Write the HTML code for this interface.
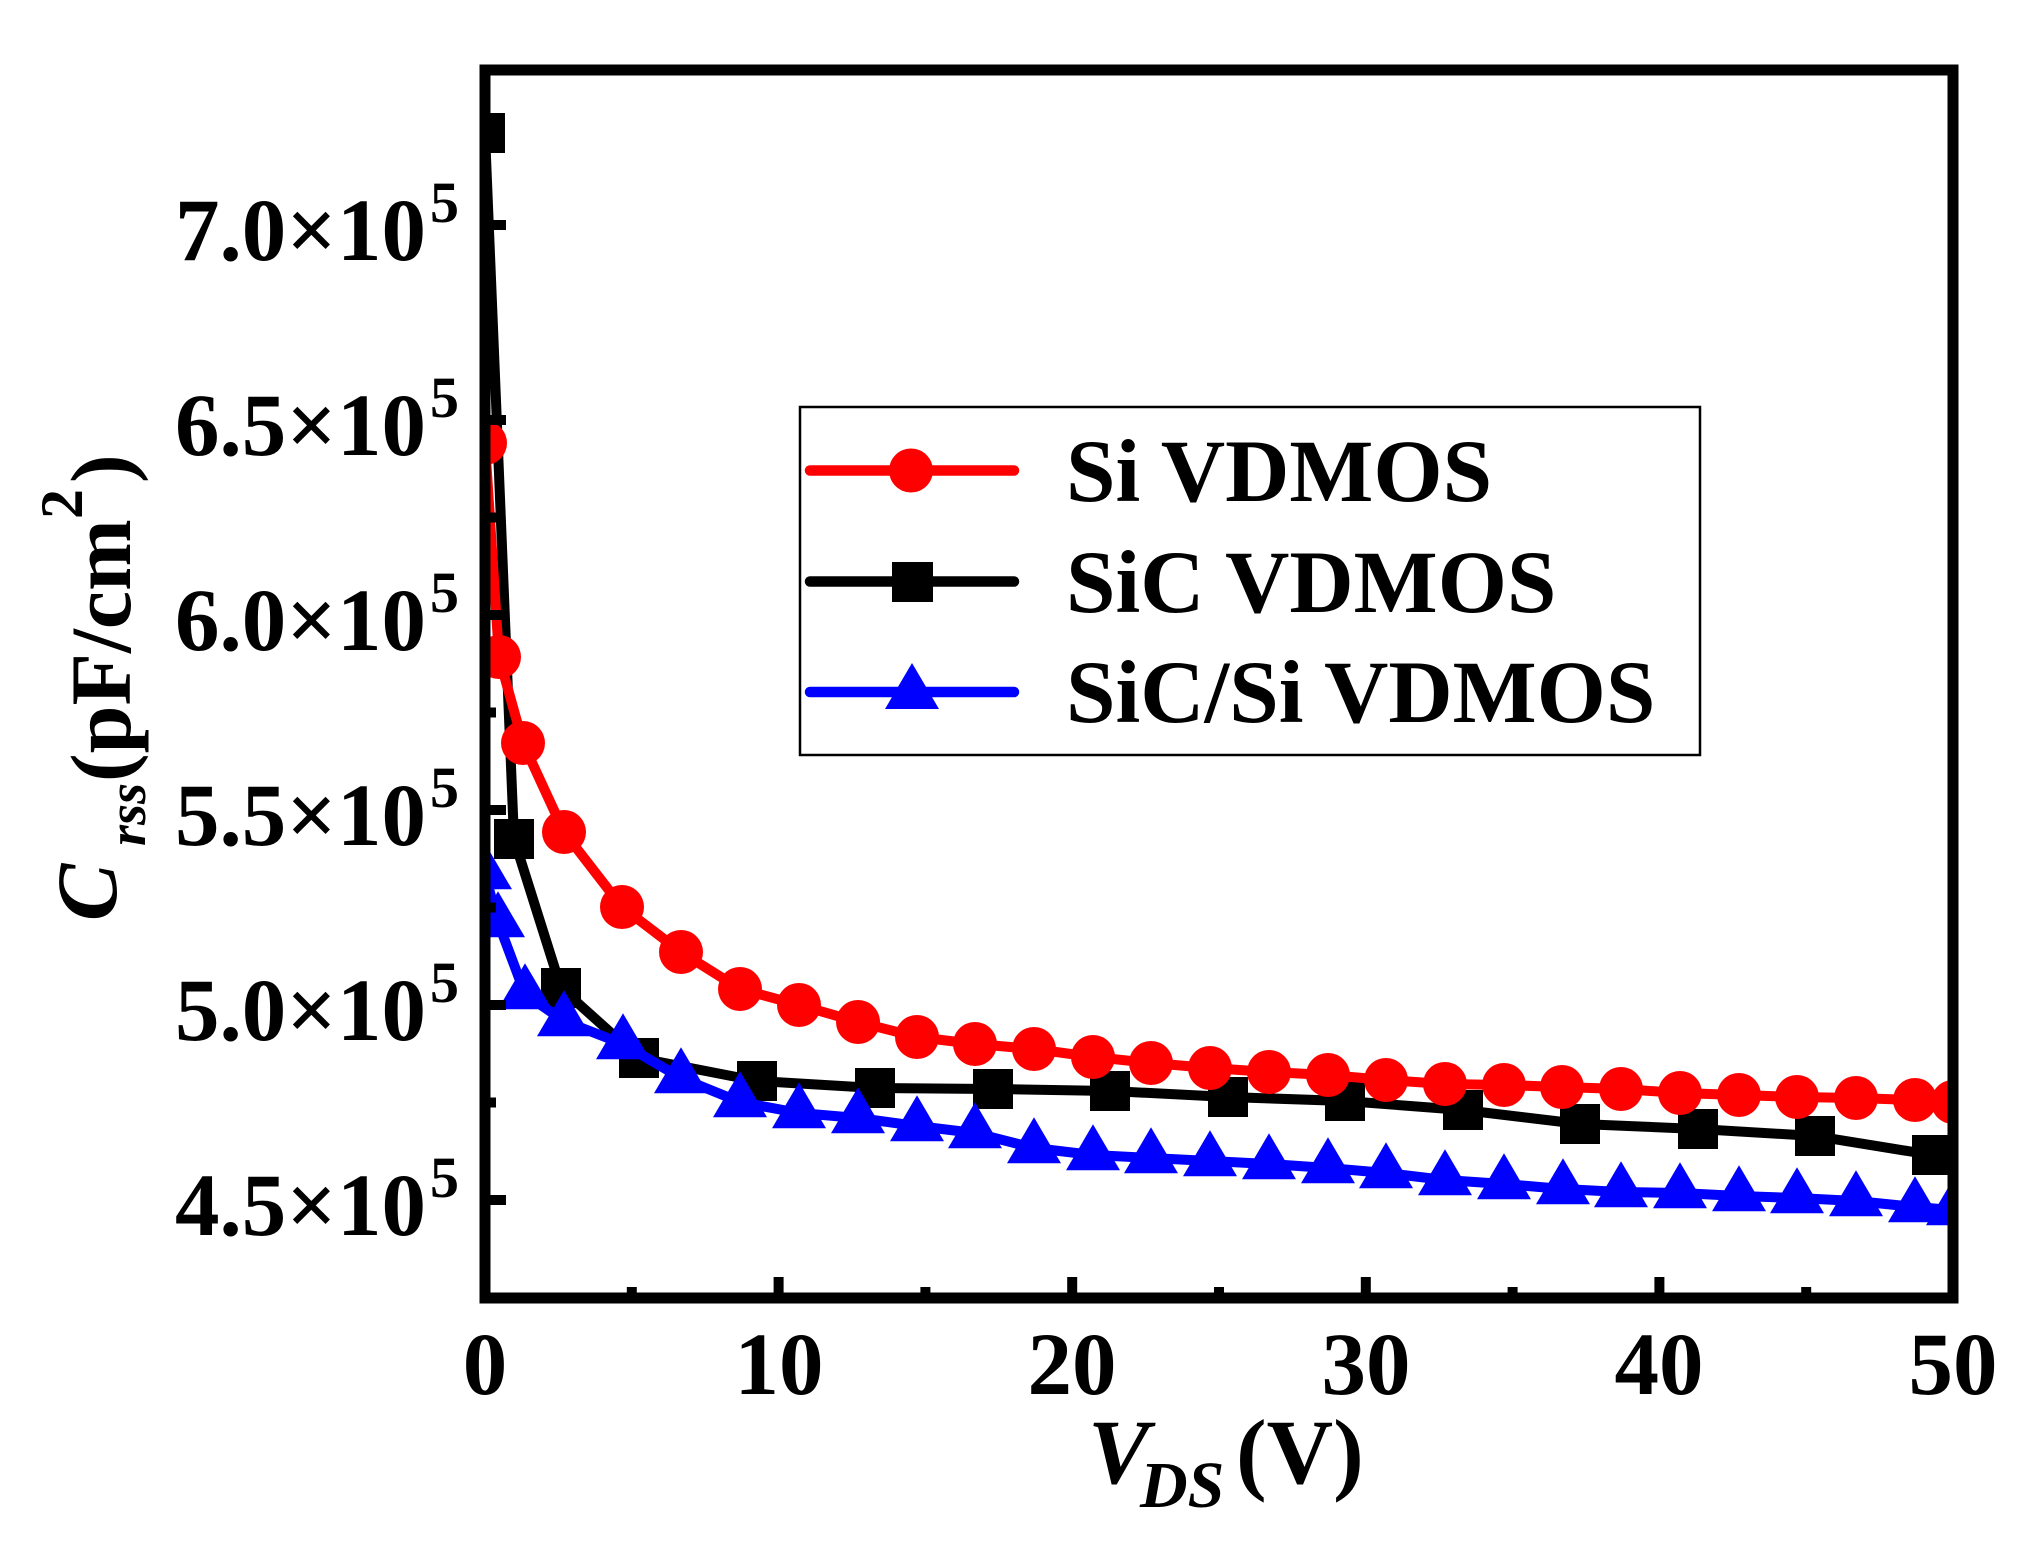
<!DOCTYPE html>
<html>
<head>
<meta charset="utf-8">
<style>
  html,body{margin:0;padding:0;background:#fff;}
  svg{display:block;}
  text{font-family:"Liberation Serif","Times New Roman",serif;font-weight:bold;fill:#000;}
</style>
</head>
<body>
<svg width="2038" height="1545" viewBox="0 0 2038 1545" xmlns="http://www.w3.org/2000/svg">
  <defs>
    <clipPath id="clip"><rect x="485" y="70" width="1468" height="1228"/></clipPath>
    <marker id="mc" markerUnits="userSpaceOnUse" markerWidth="60" markerHeight="60" refX="30" refY="30" overflow="visible">
      <circle cx="30" cy="30" r="22" fill="#ff0000"/>
    </marker>
    <marker id="ms" markerUnits="userSpaceOnUse" markerWidth="60" markerHeight="60" refX="30" refY="30" overflow="visible">
      <rect x="10" y="10" width="40" height="40" fill="#000"/>
    </marker>
    <marker id="mt" markerUnits="userSpaceOnUse" markerWidth="60" markerHeight="60" refX="30" refY="30" overflow="visible">
      <path d="M30,-0.7 L57,45.3 L3,45.3 Z" fill="#0000ff"/>
    </marker>
  </defs>

  <!-- data -->
  <g clip-path="url(#clip)" fill="none" stroke-linejoin="round">
    <polyline stroke="#000" stroke-width="10" marker-start="url(#ms)" marker-mid="url(#ms)" marker-end="url(#ms)"
      points="485,133 514,839 561,988 639,1058 757,1081 875,1088 993,1089 1110,1091 1228,1097 1345,1101 1463,1110 1580,1124 1698,1129 1815,1136 1932,1155"/>
    <polyline stroke="#0000ff" stroke-width="10" marker-start="url(#mt)" marker-mid="url(#mt)" marker-end="url(#mt)"
      points="485,874 498,922 525,994 564,1021 623,1044 681,1078 740,1102 799,1113 858,1118 917,1126 975,1133 1034,1148 1093,1155 1151,1158 1210,1161 1269,1164 1328,1168 1386,1173 1445,1180 1504,1184 1563,1189 1621,1192 1680,1193 1739,1196 1797,1198 1856,1201 1915,1207 1953,1210"/>
    <polyline stroke="#ff0000" stroke-width="10" marker-start="url(#mc)" marker-mid="url(#mc)" marker-end="url(#mc)"
      points="485,443 499,657 523,743 564,832 622,907 681,952 740,989 799,1005 858,1022 917,1037 975,1044 1034,1049 1093,1057 1151,1063 1210,1068 1269,1072 1328,1075 1386,1080 1445,1084 1504,1085 1562,1087 1621,1089 1680,1093 1739,1095 1797,1097 1856,1098 1915,1100 1953,1102"/>
  </g>

  <!-- ticks -->
  <g stroke="#000" stroke-width="10">
    <line x1="485" y1="225" x2="506" y2="225"/>
    <line x1="485" y1="420" x2="506" y2="420"/>
    <line x1="485" y1="615" x2="506" y2="615"/>
    <line x1="485" y1="810" x2="506" y2="810"/>
    <line x1="485" y1="1005" x2="506" y2="1005"/>
    <line x1="485" y1="1200" x2="506" y2="1200"/>
    <line x1="485" y1="127.5" x2="496" y2="127.5"/>
    <line x1="485" y1="322.5" x2="496" y2="322.5"/>
    <line x1="485" y1="517.5" x2="496" y2="517.5"/>
    <line x1="485" y1="712.5" x2="496" y2="712.5"/>
    <line x1="485" y1="907.5" x2="496" y2="907.5"/>
    <line x1="485" y1="1102.5" x2="496" y2="1102.5"/>

    <line x1="778.6" y1="1298" x2="778.6" y2="1277"/>
    <line x1="1072.2" y1="1298" x2="1072.2" y2="1277"/>
    <line x1="1365.8" y1="1298" x2="1365.8" y2="1277"/>
    <line x1="1659.4" y1="1298" x2="1659.4" y2="1277"/>
    <line x1="631.8" y1="1298" x2="631.8" y2="1287"/>
    <line x1="925.4" y1="1298" x2="925.4" y2="1287"/>
    <line x1="1219" y1="1298" x2="1219" y2="1287"/>
    <line x1="1512.6" y1="1298" x2="1512.6" y2="1287"/>
    <line x1="1806.2" y1="1298" x2="1806.2" y2="1287"/>
  </g>

  <!-- frame -->
  <rect x="485" y="70" width="1468" height="1228" fill="none" stroke="#000" stroke-width="11"/>

  <!-- y tick labels -->
  <g font-size="89" text-anchor="end">
    <text x="426" y="260">7.0×10</text>
    <text x="426" y="455">6.5×10</text>
    <text x="426" y="650">6.0×10</text>
    <text x="426" y="845">5.5×10</text>
    <text x="426" y="1040">5.0×10</text>
    <text x="426" y="1235">4.5×10</text>
  </g>
  <g font-size="58">
    <text x="430" y="222">5</text>
    <text x="430" y="417">5</text>
    <text x="430" y="612">5</text>
    <text x="430" y="807">5</text>
    <text x="430" y="1002">5</text>
    <text x="430" y="1197">5</text>
  </g>

  <!-- x tick labels -->
  <g font-size="89" text-anchor="middle">
    <text x="485" y="1394">0</text>
    <text x="779" y="1394">10</text>
    <text x="1072" y="1394">20</text>
    <text x="1366" y="1394">30</text>
    <text x="1659" y="1394">40</text>
    <text x="1953" y="1394">50</text>
  </g>

  <!-- x title -->
  <text x="1088" y="1483" font-size="92" font-style="italic">V</text>
  <text x="1140" y="1507" font-size="66" font-style="italic">DS</text>
  <text x="1236" y="1483" font-size="92">(V)</text>

  <!-- y title -->
  <text transform="translate(116,921) rotate(-90)" font-size="86" font-style="italic">C</text>
  <text transform="translate(145,846) rotate(-90)" font-size="54" font-style="italic">rss</text>
  <text transform="translate(130,782) rotate(-90)" font-size="86">(pF/cm</text>
  <text transform="translate(82,519) rotate(-90)" font-size="60">2</text>
  <text transform="translate(130,483) rotate(-90)" font-size="86">)</text>

  <!-- legend -->
  <rect x="800" y="407" width="900" height="348" fill="#fff" stroke="#000" stroke-width="2.5"/>
  <line x1="810" y1="470.5" x2="1014" y2="470.5" stroke="#ff0000" stroke-width="10.5" stroke-linecap="round"/>
  <circle cx="911" cy="470.5" r="22" fill="#ff0000"/>
  <line x1="810" y1="581.5" x2="1014" y2="581.5" stroke="#000" stroke-width="10.5" stroke-linecap="round"/>
  <rect x="892" y="562" width="41" height="40" fill="#000"/>
  <line x1="810" y1="692" x2="1014" y2="692" stroke="#0000ff" stroke-width="10.5" stroke-linecap="round"/>
  <path d="M912,663 L939,709 L885,709 Z" fill="#0000ff"/>
  <g font-size="89">
    <text x="1066" y="501">Si VDMOS</text>
    <text x="1066" y="612">SiC VDMOS</text>
    <text x="1066" y="722">SiC/Si VDMOS</text>
  </g>
</svg>
</body>
</html>
